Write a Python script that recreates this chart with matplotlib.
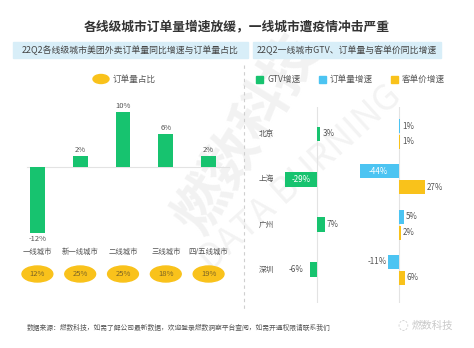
import matplotlib.pyplot as plt
from matplotlib.patches import Rectangle, Ellipse
import numpy as np

plt.rcParams['font.family'] = ['Noto Sans CJK SC', 'DejaVu Sans']

# left panel: order growth by city tier, plus share of orders
tiers = ['一线城市', '新一线城市', '二线城市', '三线城市', '四/五线城市']
order_growth = [-12, 2, 10, 6, 2]
order_share = [12, 25, 25, 18, 19]

# right panel: first-tier cities
cities = ['北京', '上海', '广州', '深圳']
gtv_growth = [3, -29, 7, -6]
orders_growth = [1, -44, 5, -11]
price_growth = [1, 27, 2, 6]

GREEN = '#17c36f'
BLUE = '#4cc4f2'
YELLOW = '#f9c21b'
GRID = '#e3e3e3'
TXT = '#555555'

W, H = 474, 348


def rect(x0, y0, x1, y1):
    # pixel box (top-left origin) -> figure fraction rect
    return [x0 / W, 1 - y1 / H, (x1 - x0) / W, (y1 - y0) / H]


def fx(x):
    return x / W


def fy(y):
    return 1 - y / H


fig = plt.figure(figsize=(W / 100, H / 100), dpi=100)
fig.patch.set_facecolor('white')

# faint watermark on a background layer
bg = fig.add_axes([0, 0, 1, 1], zorder=-5)
bg.set_xlim(0, W)
bg.set_ylim(H, 0)
bg.axis('off')
bg.text(248, 135, '燃数科技', fontsize=40, color='#f2f2f2', rotation=58,
        ha='center', va='center', fontweight='bold')
bg.text(300, 178, 'DATA BURNING', fontsize=26, color='#f3f3f3', rotation=42,
        ha='center', va='center')

fig.text(fx(237), fy(27), '各线级城市订单量增速放缓，一线城市遭疫情冲击严重',
         fontsize=9.2, fontweight='bold', color='#333333', ha='center', va='center')

# section headers
for (x0, x1, label) in [(13, 248, '22Q2各线级城市美团外卖订单量同比增速与订单量占比'),
                        (253, 441, '22Q2一线城市GTV、订单量与客单价同比增速')]:
    fig.patches.append(Rectangle((fx(x0), fy(57.5)), (x1 - x0) / W, 15.5 / H,
                                 transform=fig.transFigure, color='#d8eef8', zorder=1))
    fig.text(fx((x0 + x1) / 2), fy(50), label, fontsize=6.4, color='#444444',
             ha='center', va='center', zorder=2)

# dashed separator
fig.add_artist(plt.Line2D([fx(244), fx(244)], [fy(65), fy(310)], transform=fig.transFigure,
                          color='#cfcfcf', lw=0.8, ls=(0, (3, 3))))

# ---- left panel ----
ax = fig.add_axes(rect(16, 100, 230, 245))
ax.set_facecolor('none')
x = np.arange(len(tiers))
px_per_pct = 5.5
ax.set_xlim(-0.5, len(tiers) - 0.5)
ax.set_ylim(-(245 - 167) / px_per_pct, (167 - 100) / px_per_pct)
ax.axhline(0, color=GRID, lw=0.8, xmin=0.05, xmax=1.0, zorder=1)
ax.bar(x, order_growth, width=0.35, color=GREEN, zorder=2)
for i, v in enumerate(order_growth):
    off = 0.4 if v >= 0 else -0.4
    ax.text(i, v + off, f'{v}%', ha='center', va='bottom' if v >= 0 else 'top',
            fontsize=5.5, color=TXT)
ylab = -(252 - 167) / px_per_pct
yell = -(274 - 167) / px_per_pct
for i, (t, s) in enumerate(zip(tiers, order_share)):
    ax.text(i, ylab, t, ha='center', va='center', fontsize=5.3, color=TXT, clip_on=False)
    ax.add_patch(Ellipse((i, yell), 0.72, 16 / px_per_pct, color=YELLOW, clip_on=False))
    ax.text(i, yell, f'{s}%', ha='center', va='center', fontsize=5.5, color='#7a6326',
            clip_on=False)
ax.axis('off')

# legend for the ellipses
fig.patches.append(Ellipse((fx(101), fy(79)), 16 / W, 9 / H, transform=fig.transFigure,
                           color=YELLOW))
fig.text(fx(113), fy(79), '订单量占比', fontsize=6.2, color=TXT, va='center')

# ---- right panel ----
y = np.arange(len(cities))
row_px = 45.3
ylim = (303 - 134) / row_px, (107 - 134) / row_px

gscale = 1.1
ax_g = fig.add_axes(rect(250, 107, 360, 303))
ax_g.set_xlim((250 - 317) / gscale, (360 - 317) / gscale)
ax_g.set_ylim(*ylim)
ax_g.axvline(0, color=GRID, lw=0.8, zorder=1)
ax_g.barh(y, gtv_growth, height=0.33, color=GREEN, zorder=2)
for i, (c, v) in enumerate(zip(cities, gtv_growth)):
    ax_g.text((266 - 317) / gscale, i, c, ha='center', va='center', fontsize=5.5, color=TXT)
    if v >= 0:
        ax_g.text(v + 2, i, f'{v}%', ha='left', va='center', fontsize=5.8, color=TXT)
    elif v < -20:
        ax_g.text(v / 2, i, f'{v}%', ha='center', va='center', fontsize=5.8, color='white')
    else:
        ax_g.text(v - 6, i, f'{v}%', ha='right', va='center', fontsize=5.8, color=TXT)
ax_g.axis('off')

oscale = 0.96
ax_o = fig.add_axes(rect(360, 107, 474, 303))
ax_o.set_xlim((360 - 399) / oscale, (474 - 399) / oscale)
ax_o.set_ylim(*ylim)
ax_o.axvline(0, color=GRID, lw=0.8, zorder=1)
off = 0.175
ax_o.barh(y - off, orders_growth, height=0.31, color=BLUE, zorder=2)
ax_o.barh(y + off, price_growth, height=0.31, color=YELLOW, zorder=2)
for vals, dy in [(orders_growth, -off), (price_growth, off)]:
    for i, v in enumerate(vals):
        if v >= 0:
            ax_o.text(v + 2, i + dy, f'{v}%', ha='left', va='center', fontsize=5.8, color=TXT)
        elif v < -20:
            ax_o.text(v / 2, i + dy, f'{v}%', ha='center', va='center', fontsize=5.8,
                      color='white')
        else:
            ax_o.text(v - 1.5, i + dy, f'{v}%', ha='right', va='center', fontsize=5.8,
                      color=TXT)
ax_o.axis('off')

# legend for the right panel
for (lx, col, lab) in [(256, GREEN, 'GTV增速'), (319, BLUE, '订单量增速'),
                       (391, YELLOW, '客单价增速')]:
    fig.patches.append(Rectangle((fx(lx), fy(83)), 7 / W, 7 / H,
                                 transform=fig.transFigure, color=col))
    fig.text(fx(lx + 11), fy(79), lab, fontsize=6.2, color=TXT, va='center')

fig.text(fx(27), fy(328), '数据来源：燃数科技，如需了解公司最新数据，欢迎登录燃数洞察平台查阅，如需开通权限请联系我们',
         fontsize=4.9, color='#555555', va='center')
fig.text(fx(412), fy(326), '燃数科技', fontsize=7.5, color='#c8c8c8', va='center',
         ha='left', style='italic')
fig.text(fx(397), fy(326), '◌', fontsize=9, color='#c8c8c8', va='center', ha='left',
         family='DejaVu Sans')

fig.savefig('out.png', dpi=100, facecolor='white')
